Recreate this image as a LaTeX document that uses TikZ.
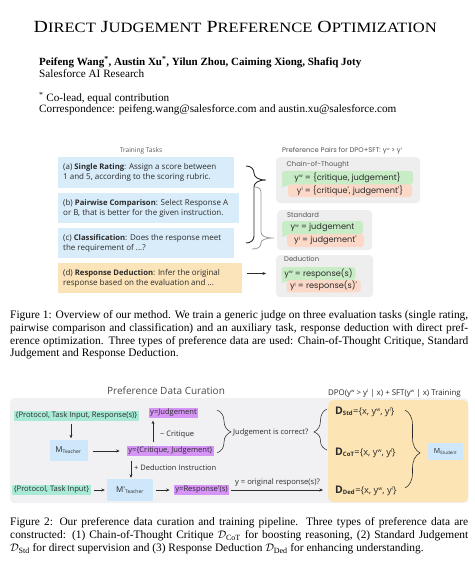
\documentclass[tikz,border=0pt]{standalone}
\usepackage{fontspec}
\usepackage{graphicx}
\setmainfont{Liberation Serif}
\newfontfamily\osans{Open Sans}
\newfontfamily\psans{Poppins}
\usetikzlibrary{decorations.pathreplacing,arrows.meta,calc}
\definecolor{taskblue}{HTML}{D8ECFA}
\definecolor{taskorange}{HTML}{FBE3BA}
\definecolor{pairgray}{HTML}{EEEEEE}
\definecolor{wgreen}{HTML}{C8EDC6}
\definecolor{lred}{HTML}{FBD8C8}
\definecolor{panelgray}{HTML}{F1F1F3}
\definecolor{panelorange}{HTML}{FCE4B4}
\definecolor{mblue}{HTML}{CFE7FB}
\definecolor{mint}{HTML}{A8EAD5}
\definecolor{hlviolet}{HTML}{D594F6}
\definecolor{labgray}{HTML}{555555}
\definecolor{ink}{HTML}{2B2B2B}
\newcommand\supw{\raisebox{0.55ex}{\scalebox{0.55}{w}}}
\newcommand\supl{\raisebox{0.55ex}{\scalebox{0.55}{l}}}
\newcommand\SCw[2]{{\fontsize{17}{18}\selectfont #1}{\fontsize{14.2}{18}\selectfont #2}}
\newcommand\tline[2]{\makebox[#1][l]{#2}}
\newcommand\tbf[1]{{\bfseries\fontsize{7.7}{10}\selectfont #1}}
\tikzset{
  txt/.style={inner sep=0, anchor=base west},
  captxt/.style={txt, font=\fontsize{11.4}{12.8}\selectfont},
  hdr/.style={txt, font=\fontsize{11.2}{12}\selectfont},
  taskbox/.style={anchor=north west, inner xsep=5pt, inner ysep=0pt, align=left,
    font=\osans\fontsize{8.0}{10}\selectfont, text=ink},
  grpbox/.style={fill=pairgray, rounded corners=4pt, anchor=north west, inner sep=0},
  bub/.style={rounded corners=3pt, inner sep=0, font=\psans\fontsize{8.2}{9}\selectfont, text=ink},
  grplab/.style={txt, font=\psans\fontsize{6.8}{8}\selectfont, text=labgray},
  hl/.style={inner xsep=1.5pt, inner ysep=1.6pt, font=\osans\fontsize{7.6}{9}\selectfont, text=ink},
  mbox/.style={fill=mblue, inner sep=0, font=\osans\fontsize{8}{9}\selectfont, text=ink},
  lab2/.style={txt, font=\osans\fontsize{7.5}{9}\selectfont, text=ink},
  arr/.style={-{Stealth[length=3.5pt,width=3pt]}, line width=0.55pt, draw=ink},
  brc/.style={decorate, line width=0.55pt, draw=ink},
  dtxt/.style={txt, font=\osans\fontsize{9.3}{10}\selectfont, text=ink},
}
\begin{document}
\begin{tikzpicture}[x=1pt,y=-1pt]
\useasboundingbox (0,0) rectangle (474,564);
\fill[white] (0,0) rectangle (474,564);

% ---------- header ----------
\node[txt] (title) at (33.5,32.3)
  {\resizebox{403pt}{11.3pt}{\fontsize{17}{18}\selectfont\SCw{D}{IRECT} \SCw{J}{UDGEMENT} \SCw{P}{REFERENCE} \SCw{O}{PTIMIZATION}}};
\node[txt, font=\bfseries\fontsize{11}{12}\selectfont] (authors) at (39,65.5)
  {Peifeng Wang\textsuperscript{*}, Austin Xu\textsuperscript{*}, Yilun Zhou, Caiming Xiong, Shafiq Joty};
\node[hdr] (affil) at (39,77.3) {Salesforce AI Research};
\node[hdr] (note) at (39,101.5) {\textsuperscript{*} Co-lead, equal contribution};
\node[hdr] (corr) at (39,112.8)
  {Correspondence: peifeng.wang@salesforce.com and austin.xu@salesforce.com};

% ---------- figure 1 ----------
\node[font=\osans\fontsize{6.5}{8}\selectfont, text=labgray, inner sep=0, anchor=base] (tt) at (141,153) {Training Tasks};
\node[taskbox, fill=taskblue, minimum height=31pt] (ta) at (58,157)
  {\tline{166pt}{(a) \tbf{Single Rating}: Assign a score between}\\\tline{166pt}{1 and 5, according to the scoring rubric.}};
\node[taskbox, fill=taskblue, minimum height=30pt] (tb) at (58,193)
  {\tline{171pt}{(b) \tbf{Pairwise Comparison}: Select Response A}\\\tline{171pt}{or B, that is better for the given instruction.}};
\node[taskbox, fill=taskblue, minimum height=30pt] (tc) at (58,228)
  {\tline{166pt}{(c) \tbf{Classification}: Does the response meet}\\\tline{166pt}{the requirement of ...?}};
\node[taskbox, fill=taskorange, minimum height=30pt] (td) at (58,263)
  {\tline{174pt}{(d) \tbf{Response Deduction}: Infer the original}\\\tline{174pt}{response based on the evaluation and ...}};

\node[grplab] (pp) at (282,152.7) {Preference Pairs for DPO+SFT: y\supw\ > y\supl};

% CoT group
\node[grpbox, minimum width=144pt, minimum height=46pt] (gcot) at (276,157) {};
\node[grplab] (lcot) at (286.5,167) {Chain-of-Thought};
\node[bub, fill=lred, minimum width=124pt, minimum height=13pt] (rcot) at (350,190.5) {y\supl\ = \{critique', judgement'\}};
\node[bub, fill=wgreen, minimum width=131pt, minimum height=13.5pt] (gcotw) at (347.5,177.5) {y\supw\ = \{critique, judgement\}};
\fill[wgreen] ($(gcotw.south west)+(1,-2)$) -- ++(-1,5) -- ++(8,-3) -- cycle;

% Standard group
\node[grpbox, minimum width=95pt, minimum height=40pt] (gstd) at (277,210) {};
\node[grplab] (lstd) at (287,217) {Standard};
\node[bub, fill=lred, minimum width=77pt, minimum height=13pt] (rstd) at (325.5,240.5) {y\supl\ = judgement'};
\node[bub, fill=wgreen, minimum width=81pt, minimum height=13pt] (gstdw) at (322.5,227.5) {y\supw\ = judgement};
\fill[wgreen] ($(gstdw.south west)+(1,-2)$) -- ++(-1,5) -- ++(8,-3) -- cycle;

% Deduction group
\node[grpbox, minimum width=97pt, minimum height=42pt] (gded) at (276,255) {};
\node[grplab] (lded) at (284,261.7) {Deduction};
\node[bub, fill=lred, minimum width=74pt, minimum height=12.5pt] (rded) at (323.5,286) {y\supl\ = response(s)'};
\node[bub, fill=wgreen, minimum width=74pt, minimum height=13pt] (gdedw) at (318.5,273.5) {y\supw\ = response(s)};
\fill[wgreen] ($(gdedw.south west)+(1,-2)$) -- ++(-1,5) -- ++(8,-3) -- cycle;

% braces of figure 1
\draw[line width=0.9pt, draw=ink] (246,166) .. controls (251,166) and (254,169) .. (254,173)
  .. controls (254,177) and (258,180) .. (266,180)
  .. controls (258,180) and (254,183) .. (254,187) -- (254,236)
  .. controls (254,240) and (251,243) .. (246,243);
\draw[line width=0.8pt, draw=gray!80] (255,187) .. controls (259,187) and (261,189) .. (261,193) -- (261,232)
  .. controls (261,236) and (265,238) .. (274,238)
  .. controls (265,238) and (261,240) .. (261,243)
  .. controls (261,247) and (258,249) .. (252,249);
\draw[arr, line width=0.7pt, shorten <=5pt, shorten >=10pt] (td.east |- gdedw.west) -- (gded.west |- gdedw.west);

% caption 1
\node[captxt] (c1a) at (10,318.4) {\makebox[458pt][s]{Figure 1: Overview of our method. We train a generic judge on three evaluation tasks (single rating,}};
\node[captxt] (c1b) at (10,331.2) {\makebox[458pt][s]{pairwise comparison and classification) and an auxiliary task, response deduction with direct pref-}};
\node[captxt] (c1c) at (10,344.0) {\makebox[458pt][s]{erence optimization. Three types of preference data are used: Chain-of-Thought Critique, Standard}};
\node[captxt] (c1d) at (10,356.6) {Judgement and Response Deduction.};

% ---------- figure 2 ----------
\node[font=\osans\fontsize{10}{11}\selectfont, text=ink!85, inner sep=0, anchor=base] (t2) at (166,394.5) {Preference Data Curation};
\node[txt, font=\osans\fontsize{7.9}{9}\selectfont, text=ink] (t3) at (328,395)
  {DPO(y\supw\ > y\supl\ | x) + SFT(y\supw\ | x) Training};
\node[fill=panelgray, rounded corners=4pt, minimum width=458pt, minimum height=105pt, anchor=north west, inner sep=0] (bg2) at (10,398) {};
\node[fill=panelorange, rounded corners=5pt, minimum width=140pt, minimum height=102pt, anchor=north west, inner sep=0] (bgo) at (328,400) {};

\node[hl, fill=mint] (p1) at (76.5,416) {\{Protocol, Task Input, Response(s)\}};
\node[hl, fill=hlviolet] (yj) at (173.5,413) {y=Judgement};
\node[mbox, minimum width=38pt, minimum height=21pt] (mt) at (68.5,450) {M\textsubscript{\fontsize{5}{6}\selectfont Teacher}};
\node[hl, fill=hlviolet] (yc) at (170.5,451) {y=\{Critique, Judgement\}};
\node[hl, fill=mint] (p2) at (51.5,490) {\{Protocol, Task Input\}};
\node[mbox, minimum width=46pt, minimum height=22pt] (mt2) at (130,490) {M'\textsubscript{\fontsize{5}{6}\selectfont Teacher}};
\node[hl, fill=hlviolet] (yr) at (201.5,490) {y=Response'(s)};

\coordinate (cx1) at (71,0);
\coordinate (cx2) at (153,0);
\coordinate (cx3) at (131,0);
\draw[arr, shorten <=2pt, shorten >=1pt] (p1.south -| cx1) -- (mt.north -| cx1);
\draw[arr, shorten <=5pt, shorten >=7pt] (mt.east |- yc.west) -- (yc.west);
\draw[arr, shorten <=3pt, shorten >=2pt] (yc.north -| cx2) -- (yj.south -| cx2);
\node[lab2] (lcrit) at (160,436.5) {− Critique};
\draw[arr, shorten <=4pt, shorten >=1pt] (yc.south -| cx3) -- (mt2.north -| cx3);
\node[lab2] (lded2) at (134,470.5) {+ Deduction Instruction};
\draw[arr, shorten <=3pt, shorten >=2pt] (p2.east) -- (mt2.west |- p2.east);
\draw[arr, shorten <=3pt, shorten >=4pt] (mt2.east |- yr.west) -- (yr.west);

\node[dtxt] (dstd) at (335,414)
  {{\bfseries\fontsize{10.5}{10}\selectfont D}\textsubscript{\bfseries\fontsize{6}{6}\selectfont Std}=\{x, y\supw, y\supl\}};
\node[dtxt] (dcot) at (335,455)
  {{\bfseries\fontsize{10.5}{10}\selectfont D}\textsubscript{\bfseries\fontsize{6}{6}\selectfont CoT}=\{x, y\supw, y\supl\}};
\node[dtxt] (dded) at (335,493)
  {{\bfseries\fontsize{10.5}{10}\selectfont D}\textsubscript{\bfseries\fontsize{6}{6}\selectfont Ded}=\{x, y\supw, y\supl\}};
\node[mbox, minimum width=35pt, minimum height=17pt, font=\osans\fontsize{7}{8}\selectfont] (ms) at (445.5,451.5) {M\textsubscript{\fontsize{4.5}{5}\selectfont Student}};

\draw[arr, shorten <=2pt, shorten >=12pt] (yr.east) -- (dded.west |- yr.east);
\node[font=\osans\fontsize{7.6}{9}\selectfont, text=ink, inner sep=0, anchor=base] (lorig) at (277.5,484) {y = original response(s)?};

\draw[brc, decoration={brace, amplitude=14pt, aspect=0.51}] (217,410) -- (217,453);
\node[lab2] (ljc) at (233,434.5) {Judgement is correct?};
\draw[brc, decoration={brace, amplitude=13pt, aspect=0.44}] (327,450) -- (327,409);
\draw[brc, decoration={brace, amplitude=15pt, aspect=0.55}] (405,410) -- (405,488);

% caption 2
\node[captxt] (c2a) at (10,525.6) {\makebox[458pt][s]{Figure 2: Our preference data curation and training pipeline. Three types of preference data are}};
\node[captxt] (c2b) at (10,538.5) {\makebox[458pt][s]{constructed: (1) Chain-of-Thought Critique $\mathcal{D}_{\mathrm{CoT}}$ for boosting reasoning, (2) Standard Judgement}};
\node[captxt] (c2c) at (10,551.5) {$\mathcal{D}_{\mathrm{Std}}$ for direct supervision and (3) Response Deduction $\mathcal{D}_{\mathrm{Ded}}$ for enhancing understanding.};
\end{tikzpicture}
\end{document}
